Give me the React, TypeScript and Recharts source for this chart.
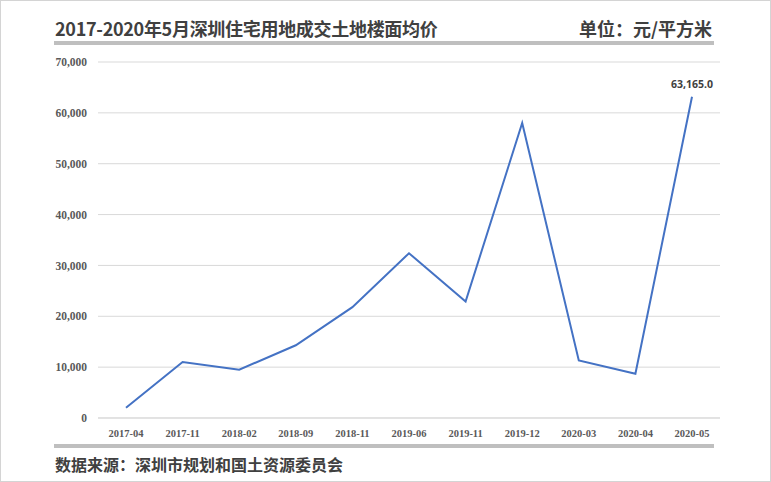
import React from 'react';
import { LineChart, Line, XAxis, YAxis, CartesianGrid } from 'recharts';

// 2017-2020年5月深圳住宅用地成交土地楼面均价 (元/平方米)
const months = [
    '2017-04', '2017-11', '2018-02', '2018-09', '2018-11', '2019-06',
    '2019-11', '2019-12', '2020-03', '2020-04', '2020-05'
];
const prices = [2000, 11000, 9500, 14300, 21800, 32400, 22900, 58000, 11300, 8700, 63165];
const yTicks = [0, 10000, 20000, 30000, 40000, 50000, 60000, 70000];

const data = months.map((m, i) => ({ month: m, price: prices[i] }));

const CJK = '"Noto Sans CJK SC", "Noto Sans", sans-serif';
const SERIF = '"Liberation Serif", "DejaVu Serif", serif';

// only the last point carries a label
const renderLabel = (props: any) => {
    const { x, y, index, value } = props;
    if (index !== prices.length - 1) return null;
    return (
        <text
            x={x}
            y={y - 9}
            textAnchor="middle"
            fontFamily='"Open Sans", "Noto Sans", sans-serif'
            fontWeight={700}
            fontSize={10.5}
            fill="#404040"
        >
            {Number(value).toLocaleString('en-US', { minimumFractionDigits: 1, maximumFractionDigits: 1 })}
        </text>
    );
};

const App: React.FC = () => {
    return (
        <div
            style={{
                position: 'absolute',
                left: 0,
                top: 0,
                width: 771,
                height: 482,
                boxSizing: 'border-box',
                border: '1px solid #d4d4d4',
                background: '#fff',
                overflow: 'hidden'
            }}
        >
            {/* header */}
            <div style={{ position: 'absolute', left: 54, top: 15, fontFamily: CJK, fontWeight: 700, fontSize: 18, lineHeight: '24px', color: '#404040', letterSpacing: -0.3 }}>
                2017-2020年5月深圳住宅用地成交土地楼面均价
            </div>
            <div style={{ position: 'absolute', right: 58, top: 15, fontFamily: CJK, fontWeight: 700, fontSize: 18, lineHeight: '24px', color: '#404040' }}>
                单位：元/平方米
            </div>
            <div style={{ position: 'absolute', left: 53, top: 40, width: 660, height: 4, background: '#bfbfbf' }} />

            <div style={{ position: 'absolute', left: -1, top: -1 }}>
                <LineChart
                    width={771}
                    height={482}
                    data={data}
                    margin={{ top: 62, right: 51, bottom: 34, left: 38 }}
                >
                    <CartesianGrid vertical={false} stroke="#d9d9d9" />
                    <XAxis
                        dataKey="month"
                        height={30}
                        padding={{ left: 28, right: 28 }}
                        axisLine={{ stroke: '#d9d9d9' }}
                        tickLine={false}
                        tickMargin={6}
                        interval={0}
                        tick={{ fontFamily: SERIF, fontWeight: 700, fontSize: 10.5, fill: '#595959' }}
                    />
                    <YAxis
                        width={60}
                        domain={[0, 70000]}
                        ticks={yTicks}
                        axisLine={false}
                        tickLine={false}
                        tickMargin={5}
                        tickFormatter={(v: number) => v.toLocaleString('en-US')}
                        tick={{ fontFamily: SERIF, fontWeight: 700, fontSize: 11.5, fill: '#595959' }}
                    />
                    <Line
                        type="linear"
                        dataKey="price"
                        stroke="#4472c4"
                        strokeWidth={2}
                        dot={false}
                        activeDot={false}
                        label={renderLabel}
                        isAnimationActive={false}
                    />
                </LineChart>
            </div>

            {/* footer */}
            <div style={{ position: 'absolute', left: 53, top: 443, width: 660, height: 4, background: '#bfbfbf' }} />
            <div style={{ position: 'absolute', left: 54, top: 452, fontFamily: CJK, fontWeight: 700, fontSize: 16, lineHeight: '22px', color: '#404040' }}>
                数据来源：深圳市规划和国土资源委员会
            </div>
        </div>
    );
};

export default App;
